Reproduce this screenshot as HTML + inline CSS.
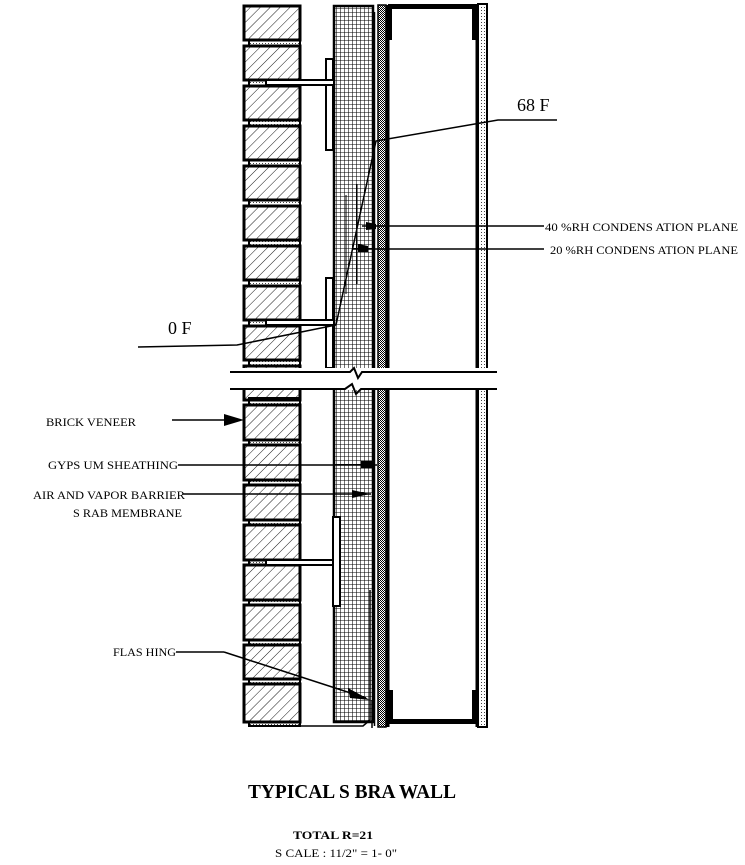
<!DOCTYPE html>
<html><head><meta charset="utf-8"><style>
html,body{margin:0;padding:0;background:#fff;}
svg{display:block;}
text{font-family:"Liberation Serif",serif;fill:#000;}
</style></head><body>
<svg width="745" height="865" viewBox="0 0 745 865" xmlns="http://www.w3.org/2000/svg">
<defs>
<pattern id="hatch" width="7" height="7" patternUnits="userSpaceOnUse" patternTransform="rotate(45)">
<line x1="0" y1="0" x2="0" y2="7" stroke="#000" stroke-width="0.9"/></pattern>
<pattern id="grid" width="4" height="4" patternUnits="userSpaceOnUse">
<rect width="4" height="4" fill="#fff"/><path d="M0 0H4M0 0V4" stroke="#000" stroke-width="1.1"/></pattern>
<pattern id="dots" width="3" height="3" patternUnits="userSpaceOnUse">
<rect width="3" height="3" fill="#fff"/><rect x="1" y="1" width="1" height="1" fill="#444"/></pattern>
<pattern id="dark" width="2" height="2" patternUnits="userSpaceOnUse">
<rect width="2" height="2" fill="#fff"/><rect width="1" height="1" fill="#000"/><rect x="1" y="1" width="1" height="1" fill="#000"/></pattern>
</defs>

<g fill="url(#dots)" stroke="#000" stroke-width="2">
<rect x="249" y="40" width="51" height="6"/><rect x="249" y="80" width="51" height="6"/>
<rect x="249" y="120" width="51" height="6"/><rect x="249" y="160" width="51" height="6"/>
<rect x="249" y="200" width="51" height="6"/><rect x="249" y="240" width="51" height="6"/>
<rect x="249" y="280" width="51" height="6"/><rect x="249" y="320" width="51" height="6"/>
<rect x="249" y="360" width="51" height="6"/>
<rect x="249" y="398" width="51" height="7"/><rect x="249" y="440" width="51" height="5"/>
<rect x="249" y="480" width="51" height="5"/><rect x="249" y="520" width="51" height="5"/>
<rect x="249" y="560" width="51" height="5"/><rect x="249" y="600" width="51" height="5"/>
<rect x="249" y="640" width="51" height="5"/><rect x="249" y="679" width="51" height="5"/>
<rect x="249" y="722" width="51" height="4"/>
</g>
<g fill="url(#hatch)" stroke="#000" stroke-width="3">
<rect x="244" y="6" width="56" height="34"/><rect x="244" y="46" width="56" height="34"/>
<rect x="244" y="86" width="56" height="34"/><rect x="244" y="126" width="56" height="34"/>
<rect x="244" y="166" width="56" height="34"/><rect x="244" y="206" width="56" height="34"/>
<rect x="244" y="246" width="56" height="34"/><rect x="244" y="286" width="56" height="34"/>
<rect x="244" y="326" width="56" height="34"/><rect x="244" y="366" width="56" height="34"/>
<rect x="244" y="405" width="56" height="35"/><rect x="244" y="445" width="56" height="35"/>
<rect x="244" y="485" width="56" height="35"/><rect x="244" y="525" width="56" height="35"/>
<rect x="244" y="565" width="56" height="35"/><rect x="244" y="605" width="56" height="35"/>
<rect x="244" y="645" width="56" height="34"/><rect x="244" y="684" width="56" height="38"/>
</g>

<rect x="334" y="6" width="39" height="716" fill="url(#grid)" stroke="#000" stroke-width="2.5"/>
<line x1="374.5" y1="12" x2="374.5" y2="726" stroke="#000" stroke-width="1.5"/>
<rect x="378" y="5" width="8" height="722" fill="url(#dark)" stroke="#000" stroke-width="1.5"/>
<line x1="388" y1="5" x2="388" y2="727" stroke="#000" stroke-width="3"/>
<rect x="478" y="4" width="9" height="723" fill="url(#dots)" stroke="#000" stroke-width="2"/>
<line x1="477" y1="4" x2="477" y2="727" stroke="#000" stroke-width="3"/>
<rect x="388" y="4" width="89" height="5" fill="#000"/>
<rect x="388" y="4" width="4" height="36" fill="#000"/>
<rect x="472" y="4" width="5" height="36" fill="#000"/>
<rect x="389" y="719" width="88" height="5" fill="#000"/>
<rect x="389" y="690" width="4" height="34" fill="#000"/>
<rect x="472" y="690" width="5" height="34" fill="#000"/>

<g fill="#fff" stroke="#000" stroke-width="2">
<rect x="326" y="59" width="7" height="91"/>
<rect x="326" y="278" width="7" height="90"/>
<rect x="333" y="517" width="7" height="89"/>
<rect x="266" y="80" width="68" height="5"/>
<rect x="266" y="320" width="68" height="5"/>
<rect x="266" y="560" width="67" height="5"/>
</g>

<rect x="228" y="368" width="272" height="22" fill="#fff"/>
<path d="M230 372H350L354 368L358 378L362 372H497" fill="none" stroke="#000" stroke-width="2"/>
<path d="M230 389H345L352 384L356 394L361 389H497" fill="none" stroke="#000" stroke-width="2"/>

<polyline points="557,120 498,120 376,141 336,325 237,345 138,347" fill="none" stroke="#000" stroke-width="1.5"/>
<line x1="346" y1="195" x2="346" y2="294" stroke="#000" stroke-width="1"/>
<line x1="357" y1="184" x2="357" y2="284" stroke="#000" stroke-width="1"/>
<text x="517" y="111" font-size="18">68 F</text>
<text x="168" y="334" font-size="18">0 F</text>

<line x1="362" y1="226" x2="544" y2="226" stroke="#000" stroke-width="1.5"/>
<polygon points="366,222 376,224 376,229 366,230" fill="#000"/>
<line x1="352" y1="249" x2="544" y2="249" stroke="#000" stroke-width="1.5"/>
<polygon points="358,244 368,246 368,252 358,252" fill="#000"/>
<text x="545" y="231" font-size="12" textLength="193" lengthAdjust="spacingAndGlyphs">40 %RH CONDENS ATION PLANE</text>
<text x="550" y="254" font-size="12" textLength="188" lengthAdjust="spacingAndGlyphs">20 %RH CONDENS ATION PLANE</text>

<line x1="172" y1="420" x2="225" y2="420" stroke="#000" stroke-width="1.5"/>
<polygon points="224,414 244,420 224,426" fill="#000"/>
<text x="46" y="426" font-size="12" textLength="90" lengthAdjust="spacingAndGlyphs">BRICK VENEER</text>
<text x="48" y="469" font-size="12" textLength="130" lengthAdjust="spacingAndGlyphs">GYPS UM SHEATHING</text>
<line x1="178" y1="465" x2="377" y2="465" stroke="#000" stroke-width="1.5"/>
<rect x="361" y="461" width="12" height="7" fill="#000"/>
<text x="33" y="499" font-size="12" textLength="152" lengthAdjust="spacingAndGlyphs">AIR AND VAPOR BARRIER</text>
<line x1="183" y1="494" x2="371" y2="494" stroke="#000" stroke-width="1.5"/>
<polygon points="352,490 370,494 352,498" fill="#000"/>
<text x="73" y="517" font-size="12" textLength="109" lengthAdjust="spacingAndGlyphs">S RAB MEMBRANE</text>
<text x="113" y="656" font-size="12" textLength="63" lengthAdjust="spacingAndGlyphs">FLAS HING</text>
<line x1="176" y1="652" x2="224" y2="652" stroke="#000" stroke-width="1.5"/>
<line x1="224" y1="652" x2="366" y2="698" stroke="#000" stroke-width="1.5"/>
<polygon points="348,688 370,700 350,698" fill="#000"/>
<polyline points="250,726 363,726 370,720 370,590" fill="none" stroke="#000" stroke-width="1.5"/>
<line x1="372" y1="700" x2="372" y2="728" stroke="#000" stroke-width="1.5"/>

<text x="248" y="798" font-size="20" font-weight="bold" textLength="208" lengthAdjust="spacingAndGlyphs">TYPICAL S BRA  WALL</text>
<text x="293" y="839" font-size="12" font-weight="bold" textLength="80" lengthAdjust="spacingAndGlyphs">TOTAL R=21</text>
<text x="275" y="857" font-size="12" textLength="122" lengthAdjust="spacingAndGlyphs">S CALE : 11/2" = 1- 0"</text>
</svg>
</body></html>
